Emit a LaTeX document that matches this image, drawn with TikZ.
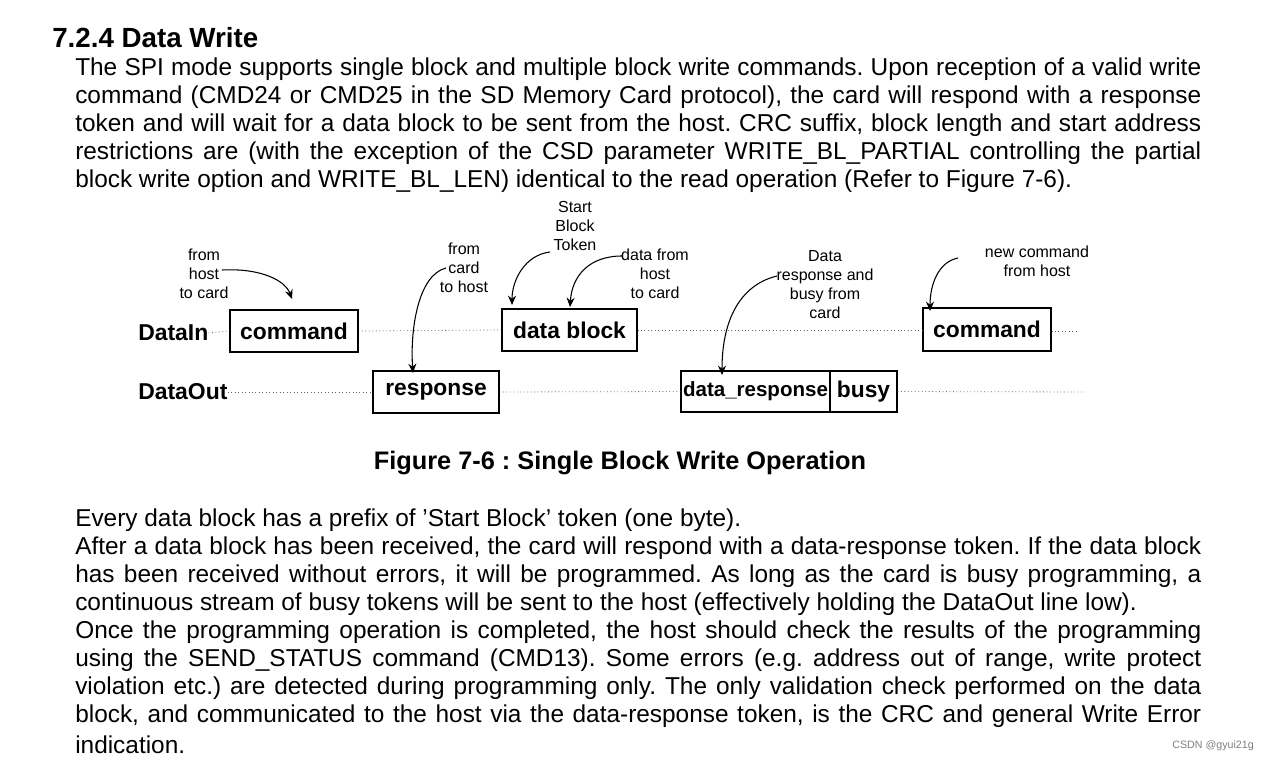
\documentclass[tikz,border=0pt]{standalone}
\usepackage{fontspec}
\setmainfont{Liberation Sans}
\usetikzlibrary{arrows.meta}
\begin{document}
\frenchspacing
\begin{tikzpicture}[x=0.75pt,y=-0.75pt,
 body/.style={anchor=west,inner sep=0pt,font=\fontsize{18.3}{21}\selectfont},
 lbl/.style={align=center,inner sep=0pt,font=\fontsize{12}{14.2}\selectfont},
 box/.style={draw,thick,inner sep=0pt,font=\bfseries\fontsize{17.1}{19}\selectfont},
 sig/.style={anchor=west,inner sep=0pt,font=\bfseries\fontsize{17.2}{19}\selectfont},
 dot/.style={dotted,black!60,line width=0.6pt},
 arr/.style={-{Stealth[length=7pt,width=6pt]},line width=0.8pt}]
\useasboundingbox[fill=white] (0,0) rectangle (1269,762);
\newcommand{\myjl}[3]{\node[body] (#1) at (75,#2) {\makebox[844.5pt][s]{#3}};}
\newcommand{\myll}[3]{\node[body] (#1) at (75,#2) {#3};}
\node[anchor=west,inner sep=0pt,font=\bfseries\fontsize{20.8}{23}\selectfont] (h) at (52,38) {7.2.4 Data Write};
\myjl{p1}{69}{The SPI mode supports single block and multiple block write commands. Upon reception of a valid write}
\myjl{p2}{97}{command (CMD24 or CMD25 in the SD Memory Card protocol), the card will respond with a response}
\myjl{p3}{125}{token and will wait for a data block to be sent from the host. CRC suffix, block length and start address}
\myjl{p4}{153}{restrictions are (with the exception of the CSD parameter WRITE\_BL\_PARTIAL controlling the partial}
\myll{p5}{181}{block write option and WRITE\_BL\_LEN) identical to the read operation (Refer to Figure 7-6).}
% diagram
\node[sig] (din) at (138,333) {DataIn};
\node[sig] (dout) at (138,392) {DataOut};
\node[box,minimum width=128*0.75pt,minimum height=42*0.75pt] (c1) at (294,331) {command};
\node[box,minimum width=135*0.75pt,minimum height=42*0.75pt] (db) at (569.5,330) {data block};
\node[box,minimum width=128*0.75pt,minimum height=43*0.75pt] (c2) at (987,329.5) {command};
\node[box,minimum width=126*0.75pt,minimum height=42*0.75pt] (rs) at (436,392) {response};
\node[box,minimum width=149*0.75pt,minimum height=41*0.75pt,font=\bfseries\fontsize{15.4}{17}\selectfont] (dr) at (755.5,391.5) {data\_response};
\node[box,minimum width=67*0.75pt,minimum height=41*0.75pt] (bz) at (863.5,391.5) {busy};
\draw[dot] (din.east) -- (c1.west);
\draw[dot] (c1.east) -- (db.west);
\draw[dot] (db.east) -- (c2.west|-db.east);
\coordinate (e1) at (1078,331);
\draw[dot] (c2.east|-e1) -- (e1);
\draw[dot] (dout.east) -- (rs.west);
\draw[dot] (rs.east) -- (dr.west);
\coordinate (e2) at (1085,392);
\draw[dot] (bz.east) -- (e2);
\node[lbl] (a1) at (204,274) {from\\host\\to card};
\node[lbl] (a2) at (464,268) {from\\card\\to host};
\node[lbl] (a3) at (575,226) {Start\\Block\\Token};
\node[lbl] (a4) at (655,274) {data from\\host\\to card};
\node[lbl] (a5) at (825,284.5) {Data\\response and\\busy from\\card};
\node[lbl] (a6) at (1037,261.5) {new command\\from host};
\coordinate (t1) at (292,299);
\coordinate (t2) at (413,373);
\coordinate (t3) at (512,305);
\coordinate (t4) at (570,307);
\coordinate (t5) at (722,375);
\coordinate (t6) at (930,311);
\draw[arr] (222,270) .. controls (260,268) and (285,280) .. (t1);
\draw[arr] (446,268) .. controls (418,275) and (410,330) .. (t2);
\draw[arr] (550,252) .. controls (525,255) and (512,280) .. (t3);
\draw[arr] (622,256) .. controls (590,256) and (572,275) .. (t4);
\draw[arr] (777,276) .. controls (740,285) and (722,320) .. (t5);
\draw[arr] (958,258) .. controls (938,262) and (930,285) .. (t6);
\node[inner sep=0pt,font=\bfseries\fontsize{19}{21}\selectfont] (cap) at (620,463) {Figure 7-6 : Single Block Write Operation};
\myll{q1}{520}{Every data block has a prefix of \symbol{39}Start Block\symbol{39} token (one byte).}
\myjl{q2}{548}{After a data block has been received, the card will respond with a data-response token. If the data block}
\myjl{q3}{576}{has been received without errors, it will be programmed. As long as the card is busy programming, a}
\myll{q4}{604}{continuous stream of busy tokens will be sent to the host (effectively holding the DataOut line low).}
\myjl{q5}{632}{Once the programming operation is completed, the host should check the results of the programming}
\myjl{q6}{660}{using the SEND\_STATUS command (CMD13). Some errors (e.g. address out of range, write protect}
\myjl{q7}{688}{violation etc.) are detected during programming only. The only validation check performed on the data}
\myjl{q8}{716}{block, and communicated to the host via the data-response token, is the CRC and general Write Error}
\myll{q9}{745}{indication.}
\node[inner sep=0pt,anchor=east,text=gray,font=\fontsize{8}{9}\selectfont] (wm) at (1254,746) {CSDN @gyui21g};
\end{tikzpicture}
\end{document}
